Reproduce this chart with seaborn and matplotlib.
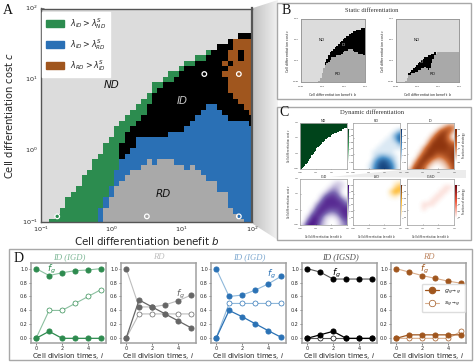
import numpy as np
import seaborn as sns
import matplotlib.pyplot as plt
from matplotlib.colors import ListedColormap
from matplotlib.patches import Patch, Polygon, Rectangle

W, H = 474, 362

# panel A: column heights of each region (40 x 40 cells, log-log grid)
green_top = [0, 0, 1, 2, 3, 5, 6, 7, 9, 10, 12, 13, 15, 16, 18, 19, 20, 21, 22, 23,
             24, 26, 26, 27, 28, 28, 29, 30, 30, 31, 31, 32, 32, 33, 33, 34, 34, 35, 35, 35]
black_top = [0, 0, 0, 0, 0, 0, 0, 0, 0, 0, 0, 0, 0, 0, 0, 15, 17, 18, 19, 20,
             22, 24, 25, 26, 26, 27, 28, 29, 29, 30, 30, 31, 32, 33, 33, 34, 34, 35, 35, 35]
blue_top = [0, 0, 0, 0, 0, 0, 0, 0, 0, 0, 0, 3, 5, 7, 10, 12, 13, 14, 16, 16,
            16, 16, 16, 16, 17, 17, 17, 18, 19, 20, 21, 22, 22, 21, 20, 19, 19, 19, 19, 18]
rd_top = [0, 0, 0, 0, 0, 0, 0, 0, 0, 0, 0, 0, 3, 5, 7, 8, 9, 10, 10, 11,
          12, 11, 12, 12, 12, 11, 11, 10, 11, 10, 9, 8, 8, 6, 6, 3, 2, 1, 0, 0]
brown_col = [35, 36, 37, 38, 39]
brown_low = [24, 23, 22, 21, 20]
brown_high = [32, 34, 34, 34, 34]
brown_extra = [(29, 34), (27, 34)]
black_holes = [(30, 37), (31, 37), (29, 35)]
marker_b = [0.17, 3.2, 65, 21, 65]
marker_c = [0.12, 0.12, 0.12, 12, 12]

# panel B
b1_rd = [0, 0, 0, 0, 0, 0, 0, 0, 0, 0, 0, 1, 3, 6, 9, 11, 12, 13, 14, 16,
         16, 16, 17, 17, 17, 18, 19, 20, 20, 21, 21, 21, 20, 19, 19, 18, 18, 18, 17, 17]
b1_black = [0, 0, 0, 0, 0, 0, 0, 0, 0, 0, 0, 0, 0, 0, 0, 13, 15, 17, 19, 20,
            21, 22, 23, 24, 25, 26, 27, 28, 29, 29, 30, 31, 32, 32, 33, 33, 33, 34, 34, 34]
b2_rd = [0, 0, 0, 0, 0, 0, 1, 3, 5, 5, 6, 6, 7, 7, 8, 8, 9, 9, 10, 9,
         8, 9, 12, 15, 17, 18, 19, 19, 19, 19, 19, 19, 19, 19, 19, 19, 19, 19, 19, 19]
b2_black = [0, 0, 0, 0, 0, 0, 0, 0, 6, 7, 8, 9, 10, 11, 12, 13, 14, 15, 16, 16,
            17, 17, 18, 18, 19, 0, 0, 0, 0, 0, 0, 0, 0, 0, 0, 0, 0, 0, 0, 0]

# panel C: fraction of strategy x10, bottom row first
frac_rd = [[0, 0, 0, 0, 1, 5, 8, 9, 9, 7, 2, 0],
           [0, 0, 0, 0, 1, 4, 8, 9, 8, 6, 2, 0],
           [0, 0, 0, 0, 0, 3, 6, 8, 7, 4, 1, 0],
           [0, 0, 0, 0, 0, 1, 3, 4, 3, 2, 1, 0],
           [0, 0, 0, 0, 0, 1, 1, 1, 1, 1, 0, 0],
           [0, 0, 0, 0, 0, 0, 1, 1, 1, 1, 1, 1],
           [0, 0, 0, 0, 0, 0, 0, 1, 1, 1, 1, 3],
           [0, 0, 0, 0, 0, 0, 0, 0, 1, 1, 3, 8],
           [0, 0, 0, 0, 0, 0, 0, 0, 0, 1, 4, 7],
           [0, 0, 0, 0, 0, 0, 0, 0, 0, 0, 1, 3],
           [0, 0, 0, 0, 0, 0, 0, 0, 0, 0, 0, 0],
           [0, 0, 0, 0, 0, 0, 0, 0, 0, 0, 0, 0]]
frac_id = [[0, 3, 9, 8, 5, 1, 0, 0, 0, 1, 3, 8],
           [0, 0, 6, 9, 7, 3, 1, 0, 1, 2, 5, 8],
           [0, 0, 2, 8, 9, 7, 3, 2, 2, 4, 7, 9],
           [0, 0, 0, 4, 9, 9, 8, 5, 5, 7, 8, 9],
           [0, 0, 0, 1, 6, 9, 9, 8, 8, 8, 8, 9],
           [0, 0, 0, 0, 3, 8, 9, 9, 9, 9, 8, 8],
           [0, 0, 0, 0, 0, 4, 9, 9, 9, 9, 7, 6],
           [0, 0, 0, 0, 0, 1, 6, 9, 9, 8, 4, 1],
           [0, 0, 0, 0, 0, 0, 2, 7, 9, 8, 3, 0],
           [0, 0, 0, 0, 0, 0, 0, 2, 7, 8, 6, 2],
           [0, 0, 0, 0, 0, 0, 0, 0, 1, 4, 6, 4],
           [0, 0, 0, 0, 0, 0, 0, 0, 0, 0, 1, 1]]
frac_igd = [[0, 3, 9, 9, 7, 3, 1, 0, 0, 1, 3, 5],
            [0, 0, 6, 9, 8, 4, 1, 0, 0, 1, 4, 6],
            [0, 0, 2, 8, 8, 6, 2, 1, 1, 3, 7, 8],
            [0, 0, 0, 4, 8, 8, 6, 4, 4, 6, 8, 8],
            [0, 0, 0, 1, 6, 8, 8, 7, 7, 7, 8, 8],
            [0, 0, 0, 0, 3, 7, 8, 8, 8, 8, 7, 5],
            [0, 0, 0, 0, 0, 4, 8, 8, 8, 7, 5, 2],
            [0, 0, 0, 0, 0, 1, 5, 7, 7, 5, 1, 0],
            [0, 0, 0, 0, 0, 0, 1, 4, 5, 3, 0, 0],
            [0, 0, 0, 0, 0, 0, 0, 1, 3, 2, 1, 0],
            [0, 0, 0, 0, 0, 0, 0, 0, 1, 2, 1, 0],
            [0, 0, 0, 0, 0, 0, 0, 0, 0, 0, 0, 0]]
frac_isd = [[0] * 12, [0] * 12, [0] * 12, [0] * 12, [0] * 12, [0] * 12, [0] * 12,
            [0, 0, 0, 0, 0, 0, 0, 0, 0, 1, 2, 0],
            [0, 0, 0, 0, 0, 0, 0, 0, 0, 3, 6, 4],
            [0, 0, 0, 0, 0, 0, 0, 0, 0, 0, 3, 5],
            [0, 0, 0, 0, 0, 0, 0, 0, 0, 0, 1, 2],
            [0] * 12]
frac_igsd = [[0] * 12, [0] * 12, [0] * 12, [0] * 12,
             [0, 0, 0, 0, 1, 0, 0, 0, 0, 0, 0, 0],
             [0, 0, 0, 0, 1, 1, 1, 0, 0, 0, 0, 0],
             [0, 0, 0, 0, 0, 0, 1, 1, 0, 0, 0, 0],
             [0, 0, 0, 0, 0, 0, 0, 1, 1, 0, 0, 0],
             [0, 0, 0, 0, 0, 0, 0, 0, 1, 1, 0, 0],
             [0, 0, 0, 0, 0, 0, 0, 0, 0, 1, 1, 0],
             [0] * 12, [0] * 12]

# panel D
times = [0, 1, 2, 3, 4, 5]
id1_f = [1.0, 0.9, 0.94, 0.97, 0.98, 1.0]
id1_g = [0, 0.1, 0, 0, 0, 0]
id1_s = [0, 0.4, 0.4, 0.5, 0.6, 0.7]
rd1_f = [1.0, 0.45, 0.45, 0.48, 0.54, 0.62]
rd1_g = [0, 0.55, 0.45, 0.35, 0.25, 0.15]
rd1_s = [0, 0.35, 0.35, 0.35, 0.35, 0.35]
id2_f = [1.0, 0.6, 0.62, 0.69, 0.78, 0.89]
id2_g = [0, 0.4, 0.31, 0.21, 0.11, 0.015]
id2_s = [0, 0.5, 0.5, 0.5, 0.5, 0.5]
id3_f = [1.0, 0.95, 0.85, 0.85, 0.85, 0.85]
id3_g = [0, 0.05, 0.1, 0, 0, 0]
id3_s = [0, 0, 0, 0, 0, 0]
rd2_f = [1.0, 0.95, 0.9, 0.86, 0.82, 0.79]
rd2_g = [0, 0.05, 0.05, 0.05, 0.05, 0.05]
rd2_s = [0, 0, 0, 0, 0, 0.1]


def px_axes(x0, y0, x1, y1):
    return fig.add_axes([x0 / W, 1 - y1 / H, (x1 - x0) / W, (y1 - y0) / H])


def px_text(x, y, s, **kw):
    fig.text(x / W, 1 - y / H, s, ha='center', va='center', **kw)


def region_grid(rd, blue, black, green):
    grid = np.zeros((40, 40), dtype=int)
    for k in range(40):
        grid[:green[k], k] = 1
        grid[:black[k], k] = 2
        grid[:blue[k], k] = 3
        grid[:rd[k], k] = 4
    return grid


def log_ticks(ax, first, last, size, length=1.5, pad=0.8):
    pos = np.linspace(first, last, 4)
    labs = ['$10^{-1}$', '$10^{0}$', '$10^{1}$', '$10^{2}$']
    ax.set_xticks(pos)
    ax.set_xticklabels(labs, rotation=0)
    ax.set_yticks(pos)
    ax.set_yticklabels(labs, rotation=0)
    ax.tick_params(labelsize=size, length=length, width=0.4, pad=pad, direction='in',
                   bottom=True, left=True)


def frame(ax, color='#8a8a8a', lw=1.0):
    for sp in ax.spines.values():
        sp.set_visible(True)
        sp.set_color(color)
        sp.set_linewidth(lw)


sns.set_theme(style='white')
fig = plt.figure(figsize=(W / 100, H / 100), dpi=100)

# background: boxes and the grey connector
bg = fig.add_axes([0, 0, 1, 1], zorder=-5)
shade = bg.imshow(np.linspace(0, 1, 64)[None, :], extent=(253, 278, 240, 0), aspect='auto',
                  cmap=ListedColormap(sns.blend_palette(['#c2c2c2', '#f2f2f2'], 64)))
shade.set_clip_path(Polygon([(253, 8), (278, 0), (278, 240), (253, 224)], transform=bg.transData))
bg.set_xlim(0, W)
bg.set_ylim(H, 0)
bg.axis('off')
for x0, y0, x1, y1 in [(277, 3, 471, 99), (277, 107, 471, 240), (9, 249, 472, 360)]:
    bg.add_patch(Rectangle((x0, y0), x1 - x0, y1 - y0, fc='white', ec='#a8a8a8', lw=1.0))
bg.add_patch(Polygon([(330, 177), (400, 170), (466, 170), (466, 178)], fc='#ececec', ec='none'))

# panel A
region_cmap = ListedColormap(['#dcdcdc', '#2c8c4f', '#000000', '#2a70b5', '#a9a9a9', '#a0561e'])
grid_a = region_grid(rd_top, blue_top, black_top, green_top)
for c, lo, hi in zip(brown_col, brown_low, brown_high):
    grid_a[lo:hi, c] = 5
for r, c in brown_extra:
    grid_a[r, c] = 5
for r, c in black_holes:
    grid_a[r, c] = 2

ax = px_axes(41, 8.5, 252, 222)
sns.heatmap(grid_a, cmap=region_cmap, vmin=0, vmax=5, cbar=False, ax=ax)
ax.set_xlim(0.5, 39.5)
ax.set_ylim(0.5, 39.5)
log_ticks(ax, 0.5, 39.5, 4.6, length=2, pad=2.2)
frame(ax, '#555555', 1.0)
ax.spines['right'].set_linewidth(1.6)
ax.set_xlabel('Cell differentiation benefit $b$', fontsize=7.4, labelpad=0.5)
ax.set_ylabel('Cell differentiation cost $c$', fontsize=7.2, labelpad=4.5)
sns.scatterplot(x=0.5 + 13 * (np.log10(marker_b) + 1), y=0.5 + 13 * (np.log10(marker_c) + 1),
                s=11, facecolor='none', edgecolor='white', linewidth=0.9, ax=ax, zorder=5)
handles = [Patch(color='#2c8c4f', label=r'$\lambda_{ID} > \lambda_{ND}^{S}$'),
           Patch(color='#2a70b5', label=r'$\lambda_{ID} > \lambda_{RD}^{S}$'),
           Patch(color='#a0561e', label=r'$\lambda_{RD} > \lambda_{ID}^{S}$')]
ax.legend(handles=handles, loc='upper left', fontsize=5.8, frameon=True, framealpha=1,
          edgecolor='white', fancybox=False, bbox_to_anchor=(0.005, 0.985), borderaxespad=0,
          handlelength=2.2, handleheight=0.9, labelspacing=0.75, borderpad=0.5, handletextpad=0.8)
px_text(112, 85, 'ND', fontsize=7.5, style='italic', color='#111111')
px_text(182, 101, 'ID', fontsize=7.5, style='italic', color='#c8c8c8')
px_text(163, 194, 'RD', fontsize=7.5, style='italic', color='#111111')

# panel B
for box, rd, black in [((301, 19, 365, 82), b1_rd, b1_black), ((396, 19, 459, 82), b2_rd, b2_black)]:
    ax = px_axes(*box)
    sns.heatmap(region_grid(rd, rd, black, [0] * 40), cmap=region_cmap, vmin=0, vmax=5,
                cbar=False, ax=ax)
    ax.set_xlim(0.5, 39.5)
    ax.set_ylim(0.5, 39.5)
    log_ticks(ax, 0.5, 39.5, 1.7, length=0.8, pad=1.4)
    frame(ax, '#999999', 0.7)
    ax.set_xlabel('Cell differentiation benefit $b$', fontsize=2.4, labelpad=0.8)
    ax.set_ylabel('Cell differentiation cost $c$', fontsize=2.4, labelpad=0.8)
px_text(322, 40, 'ND', fontsize=3.0, color='#111111')
px_text(344, 45, 'ID', fontsize=3.0, color='#c8c8c8')
px_text(338, 74, 'RD', fontsize=3.0, color='#111111')
px_text(417, 40, 'ND', fontsize=3.0, color='#111111')
px_text(422, 62, 'ID', fontsize=3.0, color='#c8c8c8')
px_text(433, 74, 'RD', fontsize=3.0, color='#111111')
px_text(372, 10, 'Static differentiation', fontsize=4.6, family='Liberation Serif', color='#333333')

# panel C
grid_nd = np.array([[1 if r >= green_top[k] else 0 for k in range(40)] for r in range(40)])
maps = [('ND', grid_nd, ['#41a05e', '#00441b'], 1.0, 300, 123),
        ('RD', frac_rd, ['#4a90c8', '#08306b'], 10.0, 353, 123),
        ('ID', frac_id, ['#d0703a', '#7f2704'], 10.0, 407, 123),
        ('IGD', frac_igd, ['#7d6ab3', '#3f007d'], 10.0, 300, 179),
        ('ISD', frac_isd, ['#fdb92f', '#662506'], 10.0, 353, 179),
        ('IGSD', frac_igsd, ['#ef5a3e', '#67000d'], 10.0, 407, 179)]
for name, vals, ramp, scale, x0, y0 in maps:
    cmap = sns.blend_palette(['white'] + ramp, as_cmap=True)
    ax = px_axes(x0, y0, x0 + 47, y0 + 46)
    cax = px_axes(x0 + 47.5, y0 + 6, x0 + 49.5, y0 + 39)
    sns.heatmap(np.array(vals) / scale, cmap=cmap, vmin=0, vmax=1, ax=ax, cbar_ax=cax)
    n = len(vals)
    if n == 40:
        first, last = 0.5, 39.5
    else:
        # the reference is soft here, so show the coarse cells smoothed
        first, last = 0.5, n - 0.5
        ax.collections[0].set_visible(False)
        ax.imshow(np.array(vals) / scale, cmap=cmap, vmin=0, vmax=1, origin='lower',
                  extent=(0, n, 0, n), interpolation='bicubic', aspect='auto')
    ax.set_xlim(first, last)
    ax.set_ylim(first, last)
    log_ticks(ax, first, last, 1.2, length=0.6)
    frame(ax, '#aaaaaa', 0.6)
    ax.set_title(name, fontsize=2.4, pad=0.8)
    cax.tick_params(labelsize=1.4, length=0.6, width=0.3, pad=0.5)
    cax.set_yticks([0, 0.2, 0.4, 0.6, 0.8, 1.0])
    if x0 == 300:
        ax.set_ylabel('Cell differentiation cost $c$', fontsize=1.9, labelpad=0.6)
    else:
        ax.set_yticklabels([])
    if y0 == 179:
        ax.set_xlabel('Cell differentiation benefit $b$', fontsize=1.9, labelpad=0.6)
    if x0 == 407:
        cax.set_ylabel('Fraction of strategy', fontsize=1.9, labelpad=0.8)
px_text(372, 112, 'Dynamic differentiation', fontsize=4.8, family='Liberation Serif', color='#333333')

# panel D
panels = [(31, 'ID (IGD)', '#2e8b4f', '#8cc0a0', id1_f, id1_g, id1_s, (1.2, 0.99)),
          (121, 'RD', '#666666', '#bdbdbd', rd1_f, rd1_g, rd1_s, (4.2, 0.63)),
          (211, 'ID (IGD)', '#2b72b5', '#8fb8da', id2_f, id2_g, id2_s, (4.26, 0.91)),
          (302, 'ID (IGSD)', '#000000', '#555555', id3_f, id3_g, id3_s, (2.25, 0.93)),
          (391, 'RD', '#a0561e', '#d8ad8c', rd2_f, rd2_g, rd2_s, (2.2, 0.99))]
title_cols = ['#7fb897', '#c0c0c0', '#7fa9d0', '#555555', '#c08a66']
for p, (x0, title, col, light, fv, gv, sv, fpos) in enumerate(panels):
    ax = px_axes(x0, 263, x0 + 75, 343)
    sns.lineplot(x=times, y=fv, color=light, marker='o', markersize=3.6, markerfacecolor=col,
                 markeredgecolor=col, linewidth=0.8, estimator=None, errorbar=None, ax=ax)
    sns.lineplot(x=times, y=sv, color=light, marker='o', markersize=3.6, markerfacecolor='white',
                 markeredgecolor=col, markeredgewidth=0.5, linewidth=0.8, estimator=None,
                 errorbar=None, ax=ax, label='$s_{g\\rightarrow g}$' if p == 4 else None)
    sns.lineplot(x=times, y=gv, color=col, marker='o', markersize=3.6, markerfacecolor=col,
                 markeredgecolor=col, linewidth=0.9, estimator=None, errorbar=None, ax=ax,
                 label='$g_{g\\rightarrow g}$' if p == 4 else None)
    ax.set_xlim(-0.39, 5.37)
    ax.set_ylim(-0.067, 1.08)
    ax.set_xticks([0, 2, 4])
    ax.set_yticks([0, 0.2, 0.4, 0.6, 0.8, 1.0])
    ax.tick_params(labelsize=3.5, length=1.5, width=0.4, pad=0.8, bottom=True, left=True)
    frame(ax, '#a0a0a0', 1.1)
    ax.set_xlabel('Cell division times, $i$', fontsize=5.0, labelpad=0)
    ax.text(fpos[0], fpos[1], '$f_g$', fontsize=6.5, color=col, ha='center', va='center')
    px_text(x0 + 38, 257, title, fontsize=6.2, family='Liberation Serif', style='italic',
            color=title_cols[p])
    if p == 4:
        h, l = ax.get_legend_handles_labels()
        ax.legend(h[::-1], l[::-1], loc='center right', fontsize=4.6, frameon=True, framealpha=1,
                  edgecolor='#dddddd', bbox_to_anchor=(0.98, 0.56), borderaxespad=0, borderpad=0.5,
                  handlelength=2.2, labelspacing=0.5, markerscale=1.3)
    else:
        leg = ax.get_legend()
        if leg:
            leg.remove()

for s, x, y in [('A', 8, 10), ('B', 286, 10), ('C', 284, 113), ('D', 19, 258)]:
    px_text(x, y, s, fontsize=10, family='Liberation Serif', color='#111111')

fig.savefig('out.png', dpi=100)
